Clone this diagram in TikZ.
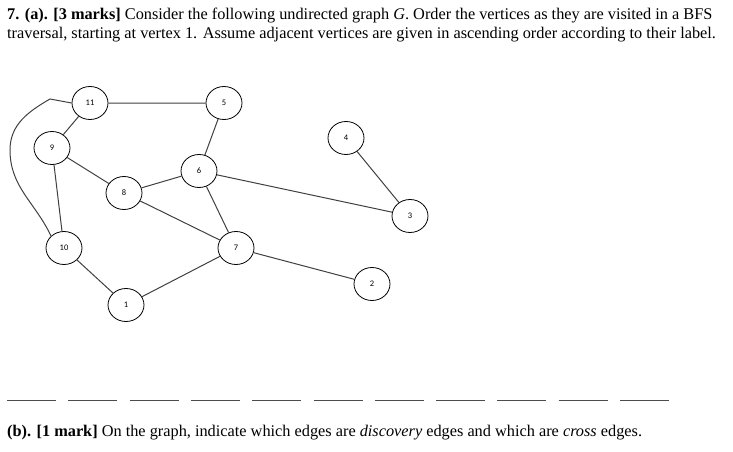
\documentclass[tikz,border=0pt]{standalone}
\usepackage{fontspec}
\setmainfont{Liberation Serif}
\newfontfamily\lblfont{Carlito}
\usetikzlibrary{shapes.geometric}
\begin{document}
\begin{tikzpicture}[x=1pt,y=-1pt,
  vtx/.style={draw,line width=0.8pt,ellipse,minimum width=36pt,minimum height=33pt,inner sep=0pt,font=\lblfont\fontsize{8.5}{9}\selectfont},
  edge/.style={draw=black!75,line width=1pt},
  txt/.style={anchor=west,inner sep=0pt,font=\fontsize{16.3}{18}\selectfont}]
\useasboundingbox (0,0) rectangle (733,452);
\node[vtx] (n11) at (90,103) {11};
\node[vtx] (n5) at (224,103) {5};
\node[vtx] (n4) at (346,138) {4};
\node[vtx] (n9) at (52,148) {9};
\node[vtx] (n6) at (199,171) {6};
\node[vtx] (n8) at (124,193) {8};
\node[vtx] (n3) at (410,216) {3};
\node[vtx] (n10) at (64,248) {10};
\node[vtx] (n7) at (236,248) {7};
\node[vtx] (n2) at (372,284) {2};
\node[vtx] (n1) at (126,305) {1};
\draw[edge] (n11)--(n5) (n11)--(n9) (n5)--(n6) (n4)--(n3) (n9)--(n8) (n9)--(n10)
  (n8)--(n6) (n6)--(n3) (n6)--(n7) (n8)--(n7) (n7)--(n2) (n7)--(n1) (n10)--(n1);
\draw[edge] (n11.west) -- (50,99) to[out=210,in=90] (10,150) to[out=-90,in=115] (n10.north west);
\node[txt] (t1) at (7,16) {\textbf{7. (a). [3 marks]} Consider the following undirected graph \textit{G}. Order the vertices as they are visited in a BFS};
\node[txt] (t2) at (7,35) {traversal, starting at vertex 1. Assume adjacent vertices are given in ascending order according to their label.};
\foreach \i in {0,...,10} \draw[black!70,line width=0.5pt] (7+\i*61.3,400) -- (56+\i*61.3,400);
\node[txt] (t3) at (7,433) {\textbf{(b). [1 mark]} On the graph, indicate which edges are \textit{discovery} edges and which are \textit{cross} edges.};
\end{tikzpicture}
\end{document}
